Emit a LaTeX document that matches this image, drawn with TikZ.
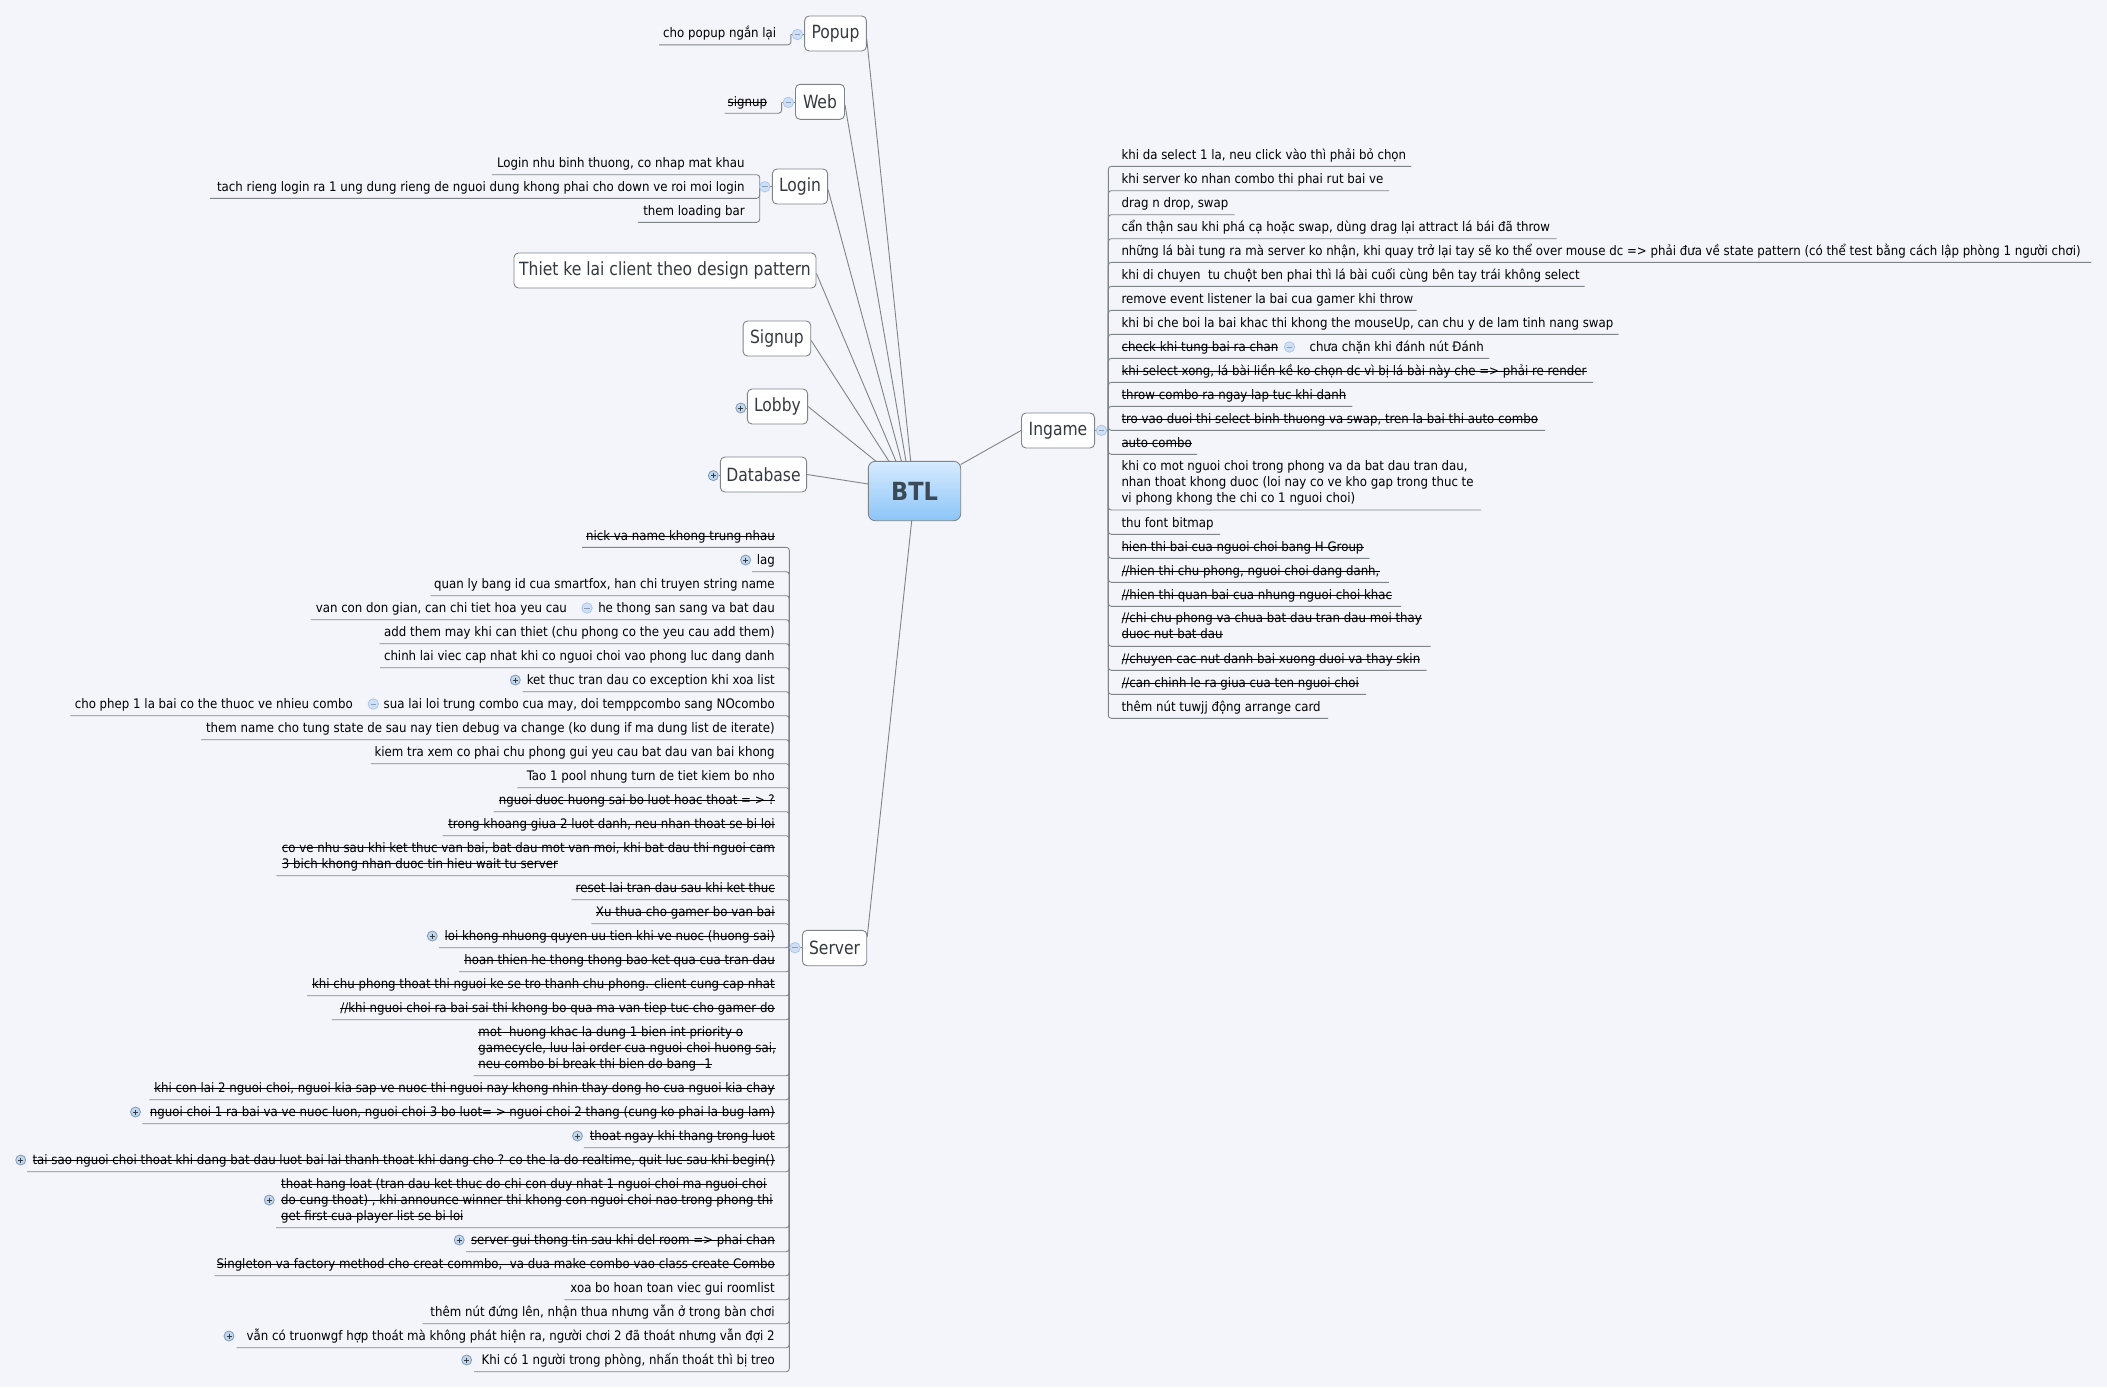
\documentclass[tikz,border=0pt]{standalone}
\usepackage{fontspec}
\setmainfont{DejaVu Sans Condensed}
\newfontfamily\topicfont[FakeStretch=0.95]{DejaVu Sans Condensed}
\definecolor{bgc}{HTML}{F3F5FA}
\definecolor{lnc}{HTML}{7F8487}
\definecolor{topc}{HTML}{333A40}
\definecolor{btlt}{HTML}{D6EBFF}
\definecolor{btlb}{HTML}{8CC5F8}
\definecolor{btlc}{HTML}{3C4A57}
\definecolor{minusf}{HTML}{CFE0F6}
\definecolor{minusl}{HTML}{A9C4E6}
\definecolor{plusf}{HTML}{C2D6EC}
\definecolor{plusl}{HTML}{7F9BB8}
\newcommand\stk[1]{\setbox0\hbox{#1}\rlap{\rule[3.8pt]{\wd0}{0.9pt}}\box0}
\tikzset{
  conn/.style={draw=lnc,line width=0.9pt},
  elbow/.style={conn,rounded corners=3pt},
  topic/.style={draw=lnc,fill=white,rounded corners=4.5pt,line width=0.9pt,font=\topicfont\fontsize{18.2}{22}\selectfont,text=topc,inner sep=0pt},
  central/.style={draw=lnc,rounded corners=7pt,top color=btlt,bottom color=btlb,line width=0.9pt,font=\bfseries\fontsize{25}{30}\selectfont,text=btlc,inner sep=0pt},
  sub/.style={font=\fontsize{13.12}{16}\selectfont,text=black,inner sep=0pt},
  minusi/.style={circle,fill=minusf,draw=minusl,minimum size=10.5pt,inner sep=0pt,line width=0.7pt},
  plusi/.style={circle,fill=plusf,draw=plusl,minimum size=10pt,inner sep=0pt,line width=0.8pt},
}
% left item: name, underline y, underline left x, text right x, spine, text
\newcommand\LI[6]{\node[sub,anchor=base east] (#1) at (#4,#2-7) {#6};\coordinate (#1u) at (#3,#2);\draw[elbow] (#5) |- (#1u);}
\newcommand\RI[4]{\node[sub,anchor=base west] (#1) at (1121.3,#2-7) {#4};\coordinate (#1u) at (#3,#2);\draw[elbow] (Ispine) |- (#1u);}
\newcommand\MINUS[2]{\node[minusi] (#1) at #2 {};\draw[minusl!80!black,line width=0.8pt] (#1.center) ++(-2.8,0) -- ++(5.6,0);}
\newcommand\PLUS[2]{\node[plusi] (#1) at #2 {};\draw[topc,line width=0.8pt] (#1.center) ++(-2.5,0) -- ++(5,0) (#1.center) ++(0,-2.5) -- ++(0,5);}
\begin{document}
\begin{tikzpicture}[x=1pt,y=-1pt]
\useasboundingbox[fill=bgc] (0,0) rectangle (2107,1387);
% topics
\node[central,minimum width=92.4pt,minimum height=59.4pt] (btl) at (914.5,491) {BTL};
\node[topic,minimum width=61.7pt,minimum height=35pt] (popup) at (835.5,33.5) {Popup};
\node[topic,minimum width=49pt,minimum height=35pt] (web) at (820,101.8) {Web};
\node[topic,minimum width=55.2pt,minimum height=35pt] (login) at (800,186.5) {Login};
\node[topic,minimum width=302pt,minimum height=35pt] (design) at (665,270.5) {Thiet ke lai client theo design pattern};
\node[topic,minimum width=67.7pt,minimum height=35pt] (signup) at (776.9,338.5) {Signup};
\node[topic,minimum width=60.2pt,minimum height=35pt] (lobby) at (777.5,406.5) {Lobby};
\node[topic,minimum width=86.2pt,minimum height=35pt] (database) at (763.5,474.5) {Database};
\node[topic,minimum width=73.1pt,minimum height=35pt] (ingame) at (1058,430.5) {Ingame};
\node[topic,minimum width=64.3pt,minimum height=35.4pt] (server) at (834.6,948) {Server};
% central connectors
\draw[conn] (popup.east) ++(0,6) -- (910.7,461.3);
\draw[conn] (web.east) ++(0,3) -- (906,461.3);
\draw[conn] (login.east) ++(0,3) -- (901.5,461.3);
\draw[conn] (design.east) ++(0,3) -- (896,461.3);
\draw[conn] (signup.east) ++(0,2) -- (889,461.3);
\draw[conn] (lobby.east) -- (876,461.3);
\draw[conn] (database.east) -- (868.3,484);
\draw[conn] (ingame.west) -- (960.7,464.5);
\draw[conn] (server.east) ++(0,-11) -- (911.7,520.7);
% Popup
\coordinate (Pspine) at (790.8,34.5);
\draw[conn] (Pspine) -- (popup.west|-Pspine);
\LI{pa}{44.9}{659.2}{776.5}{Pspine}{cho popup ngắn lại}
\MINUS{pd}{(797.4,34.5)}
% Web
\coordinate (Wspine) at (781.6,102.4);
\draw[conn] (Wspine) -- (web.west|-Wspine);
\LI{wa}{113.2}{724.5}{767.3}{Wspine}{\stk{signup}}
\MINUS{wd}{(788.3,102.4)}
% Login
\coordinate (Lspine) at (759.7,186.8);
\draw[conn] (Lspine) -- (login.west|-Lspine);
\LI{la}{174.7}{491.8}{744.9}{Lspine}{Login nhu binh thuong, co nhap mat khau}
\LI{lb}{198.3}{210.2}{744.9}{Lspine}{tach rieng login ra 1 ung dung rieng de nguoi dung khong phai cho down ve roi moi login}
\LI{lc}{222.3}{637.8}{744.9}{Lspine}{them loading bar}
\MINUS{ld}{(764.8,186.8)}
% Lobby / Database
\PLUS{lobbyp}{(740.8,408)}
\draw[conn] (lobbyp) -- (lobby.west|-lobbyp);
\PLUS{dbp}{(713.3,475.6)}
\draw[conn] (dbp) -- (database.west|-dbp);
% Ingame
\coordinate (Ispine) at (1108.3,430.3);
\draw[conn] (Ispine) -- (ingame.east|-Ispine);
\RI{ia}{166.3}{1411}{khi da select 1 la, neu click vào thì phải bỏ chọn}
\RI{ib}{190.7}{1389}{khi server ko nhan combo thi phai rut bai ve}
\RI{ic}{214.7}{1234.5}{drag n drop, swap}
\RI{id}{238.7}{1556.5}{cẩn thận sau khi phá cạ hoặc swap, dùng drag lại attract lá bái đã throw}
\RI{ie}{262.3}{2091}{những lá bài tung ra mà server ko nhận, khi quay trở lại tay sẽ ko thể over mouse dc => phải đưa về state pattern (có thể test bằng cách lập phòng 1 người chơi)}
\RI{if}{286.3}{1584.7}{khi di chuyen\ \ tu chuột ben phai thì lá bài cuối cùng bên tay trái không select}
\RI{ig}{310.3}{1416.7}{remove event listener la bai cua gamer khi throw}
\RI{ih}{334.3}{1618.6}{khi bi che boi la bai khac thi khong the mouseUp, can chu y de lam tinh nang swap}
\RI{ii}{358.3}{1489.4}{\stk{check khi tung bai ra chan}}
\node[sub,anchor=base west] (iichild) at (1309.3,351.3) {chưa chặn khi đánh nút Đánh};
\MINUS{iid}{(1289.5,347)}
\RI{ij}{382.3}{1593}{\stk{khi select xong, lá bài liền kề ko chọn dc vì bị lá bài này che => phải re render}}
\RI{ik}{406.3}{1352.4}{\stk{throw combo ra ngay lap tuc khi danh}}
\RI{il}{430.3}{1545}{\stk{tro vao duoi thi select binh thuong va swap, tren la bai thi auto combo}}
\RI{im}{454.3}{1197}{\stk{auto combo}}
\RI{inn}{510}{1481}{}
\node[sub,anchor=north west,align=left] (inn2) at (1121.3,460.5) {khi co mot nguoi choi trong phong va da bat dau tran dau,\\nhan thoat khong duoc (loi nay co ve kho gap trong thuc te\\vi phong khong the chi co 1 nguoi choi)};
\RI{io}{534.3}{1220}{thu font bitmap}
\RI{ip}{558.3}{1369.7}{\stk{hien thi bai cua nguoi choi bang H Group}}
\RI{iq}{582.3}{1388.8}{\stk{//hien thi chu phong, nguoi choi dang danh,}}
\RI{ir}{606.3}{1401}{\stk{//hien thi quan bai cua nhung nguoi choi khac}}
\RI{is}{646.3}{1430.5}{}
\node[sub,anchor=north west,align=left] (is2) at (1121.3,612.5) {\stk{//chi chu phong va chua bat dau tran dau moi thay}\\\stk{duoc nut bat dau}};
\RI{it}{670.3}{1426.7}{\stk{//chuyen cac nut danh bai xuong duoi va thay skin}}
\RI{iu}{694.3}{1366}{\stk{//can chinh le ra giua cua ten nguoi choi}}
\RI{iv}{718.3}{1328}{thêm nút tuwjj động arrange card}
\MINUS{idot}{(1101.4,430.3)}
% Server
\coordinate (Sspine) at (789.3,947.7);
\draw[conn] (Sspine) -- (server.west|-Sspine);
\def\R{775}
\LI{sa}{547.3}{582.2}{\R}{Sspine}{\stk{nick va name khong trung nhau}}
\LI{sb}{571.7}{752}{\R}{Sspine}{lag}
\PLUS{sbp}{(745.6,560)}
\LI{sc}{595.7}{430.5}{\R}{Sspine}{quan ly bang id cua smartfox, han chi truyen string name}
\LI{sd}{619.7}{310.8}{\R}{Sspine}{he thong san sang va bat dau}
\node[sub,anchor=base east] (sdchild) at (567.2,612.7) {van con don gian, can chi tiet hoa yeu cau};
\MINUS{sdd}{(587,608)}
\LI{se}{643.7}{379.6}{\R}{Sspine}{add them may khi can thiet (chu phong co the yeu cau add them)}
\LI{sf}{667.7}{380}{\R}{Sspine}{chinh lai viec cap nhat khi co nguoi choi vao phong luc dang danh}
\LI{sg}{691.7}{522.6}{\R}{Sspine}{ket thuc tran dau co exception khi xoa list}
\PLUS{sgp}{(515.3,680)}
\LI{sh}{715.7}{70.4}{\R}{Sspine}{sua lai loi trung combo cua may, doi temppcombo sang NOcombo}
\node[sub,anchor=base east] (shchild) at (353,708.7) {cho phep 1 la bai co the thuoc ve nhieu combo};
\MINUS{shd}{(373.3,704)}
\LI{si}{739.7}{201.2}{\R}{Sspine}{them name cho tung state de sau nay tien debug va change (ko dung if ma dung list de iterate)}
\LI{sj}{763.7}{370.9}{\R}{Sspine}{kiem tra xem co phai chu phong gui yeu cau bat dau van bai khong}
\LI{sk}{787.7}{517.3}{\R}{Sspine}{Tao 1 pool nhung turn de tiet kiem bo nho}
\LI{sl}{811.7}{493.5}{\R}{Sspine}{\stk{nguoi duoc huong sai bo luot hoac thoat = > ?}}
\LI{sm}{835.7}{442.6}{\R}{Sspine}{\stk{trong khoang giua 2 luot danh, neu nhan thoat se bi loi}}
\LI{sn}{875.7}{276.4}{\R}{Sspine}{}
\node[sub,anchor=north west,align=left] (sn2) at (281.7,842) {\stk{co ve nhu sau khi ket thuc van bai, bat dau mot van moi, khi bat dau thi nguoi cam}\\\stk{3 bich khong nhan duoc tin hieu wait tu server}};
\LI{so}{899.7}{571.6}{\R}{Sspine}{\stk{reset lai tran dau sau khi ket thuc}}
\LI{sp}{923.7}{591.3}{\R}{Sspine}{\stk{Xu thua cho gamer bo van bai}}
\LI{sq}{947.7}{439}{\R}{Sspine}{\stk{loi khong nhuong quyen uu tien khi ve nuoc (huong sai)}}
\PLUS{sqp}{(432.3,936)}
\LI{sr}{971.7}{459}{\R}{Sspine}{\stk{hoan thien he thong thong bao ket qua cua tran dau}}
\LI{ss}{995.7}{307}{\R}{Sspine}{\stk{khi chu phong thoat thi nguoi ke se tro thanh chu phong. client cung cap nhat}}
\LI{st}{1019.7}{331.8}{\R}{Sspine}{\stk{//khi nguoi choi ra bai sai thi khong bo qua ma van tiep tuc cho gamer do}}
\LI{su}{1075.7}{473.6}{\R}{Sspine}{}
\node[sub,anchor=north west,align=left] (su2) at (478.2,1026.5) {\stk{mot\ \ huong khac la dung 1 bien int priority o}\\\stk{gamecycle, luu lai order cua nguoi choi huong sai,}\\\stk{neu combo bi break thi bien do bang -1}};
\LI{sv}{1099.7}{149.3}{\R}{Sspine}{\stk{khi con lai 2 nguoi choi, nguoi kia sap ve nuoc thi nguoi nay khong nhin thay dong ho cua nguoi kia chay}}
\LI{sw}{1123.7}{142.4}{\R}{Sspine}{\stk{nguoi choi 1 ra bai va ve nuoc luon, nguoi choi 3 bo luot= > nguoi choi 2 thang (cung ko phai la bug lam)}}
\PLUS{swp}{(135.5,1112)}
\LI{sx}{1147.7}{583.8}{\R}{Sspine}{\stk{thoat ngay khi thang trong luot}}
\PLUS{sxp}{(577.5,1136)}
\LI{sy}{1171.7}{27}{\R}{Sspine}{\stk{tai sao nguoi choi thoat khi dang bat dau luot bai lai thanh thoat khi dang cho ? co the la do realtime, quit luc sau khi begin()}}
\PLUS{syp}{(20.7,1160)}
\LI{sz}{1227.7}{276}{\R}{Sspine}{}
\node[sub,anchor=north west,align=left] (sz2) at (281,1178.5) {\stk{thoat hang loat (tran dau ket thuc do chi con duy nhat 1 nguoi choi ma nguoi choi}\\\stk{do cung thoat) , khi announce winner thi khong con nguoi choi nao trong phong thi}\\\stk{get first cua player list se bi loi}};
\PLUS{szp}{(269.2,1200)}
\LI{ta}{1251.7}{466}{\R}{Sspine}{\stk{server gui thong tin sau khi del room => phai chan}}
\PLUS{tap}{(459.2,1240)}
\LI{tb}{1275.7}{214.7}{\R}{Sspine}{\stk{Singleton va factory method cho creat commbo,\ \ va dua make combo vao class create Combo}}
\LI{tc}{1299.7}{564.3}{\R}{Sspine}{xoa bo hoan toan viec gui roomlist}
\LI{td}{1323.7}{422.5}{\R}{Sspine}{thêm nút đứng lên, nhận thua nhưng vẫn ở trong bàn chơi}
\LI{te}{1347.7}{236.5}{\R}{Sspine}{vẫn có truonwgf hợp thoát mà không phát hiện ra, người chơi 2 đã thoát nhưng vẫn đợi 2}
\PLUS{tep}{(229,1336)}
\LI{tf}{1371.7}{474.2}{\R}{Sspine}{Khi có 1 người trong phòng, nhấn thoát thì bị treo}
\PLUS{tfp}{(466.7,1360)}
\MINUS{sdot}{(795,947.7)}
\end{tikzpicture}
\end{document}
